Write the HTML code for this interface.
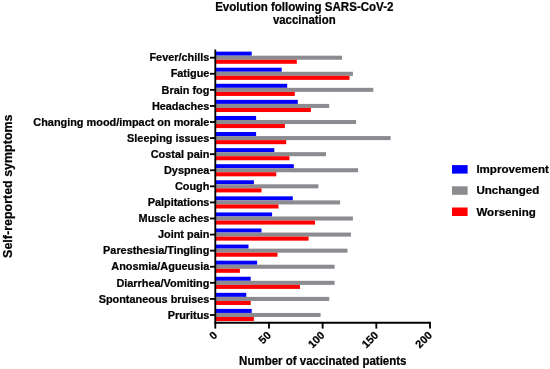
<!DOCTYPE html>
<html lang="en">
<head>
<meta charset="utf-8">
<title>Evolution following SARS-CoV-2 vaccination</title>
<style>
html,body{margin:0;padding:0;background:#fff;}
body{width:550px;height:369px;overflow:hidden;}
svg{display:block;}
text{font-family:"Liberation Sans",Arial,Helvetica,sans-serif;font-weight:bold;fill:#000;stroke:#000;stroke-width:0.22px;}
</style>
</head>
<body>
<svg width="550" height="369" viewBox="0 0 550 369">
<rect x="0" y="0" width="550" height="369" fill="#ffffff"/>
<text x="304.3" y="11" font-size="11.9" text-anchor="middle" textLength="178.3" lengthAdjust="spacingAndGlyphs">Evolution following SARS-CoV-2</text>
<text x="304.3" y="24" font-size="11.9" text-anchor="middle" textLength="62.7" lengthAdjust="spacingAndGlyphs">vaccination</text>
<g shape-rendering="auto">
<rect x="215.3" y="51.62" width="36.4" height="4.05" fill="#0000ff"/><rect x="215.3" y="55.68" width="126.8" height="4.05" fill="#8b8b90"/><rect x="215.3" y="59.73" width="81.5" height="4.05" fill="#ff0000"/>
<rect x="215.3" y="67.70" width="66.4" height="4.05" fill="#0000ff"/><rect x="215.3" y="71.75" width="137.6" height="4.05" fill="#8b8b90"/><rect x="215.3" y="75.81" width="134.2" height="4.05" fill="#ff0000"/>
<rect x="215.3" y="83.78" width="71.9" height="4.05" fill="#0000ff"/><rect x="215.3" y="87.83" width="158.0" height="4.05" fill="#8b8b90"/><rect x="215.3" y="91.89" width="79.5" height="4.05" fill="#ff0000"/>
<rect x="215.3" y="99.86" width="82.5" height="4.05" fill="#0000ff"/><rect x="215.3" y="103.91" width="113.9" height="4.05" fill="#8b8b90"/><rect x="215.3" y="107.97" width="95.6" height="4.05" fill="#ff0000"/>
<rect x="215.3" y="115.94" width="40.8" height="4.05" fill="#0000ff"/><rect x="215.3" y="119.99" width="140.8" height="4.05" fill="#8b8b90"/><rect x="215.3" y="124.05" width="69.6" height="4.05" fill="#ff0000"/>
<rect x="215.3" y="132.03" width="40.8" height="4.05" fill="#0000ff"/><rect x="215.3" y="136.07" width="175.3" height="4.05" fill="#8b8b90"/><rect x="215.3" y="140.12" width="70.9" height="4.05" fill="#ff0000"/>
<rect x="215.3" y="148.11" width="59.0" height="4.05" fill="#0000ff"/><rect x="215.3" y="152.16" width="110.7" height="4.05" fill="#8b8b90"/><rect x="215.3" y="156.21" width="74.1" height="4.05" fill="#ff0000"/>
<rect x="215.3" y="164.19" width="78.5" height="4.05" fill="#0000ff"/><rect x="215.3" y="168.23" width="142.8" height="4.05" fill="#8b8b90"/><rect x="215.3" y="172.28" width="61.0" height="4.05" fill="#ff0000"/>
<rect x="215.3" y="180.26" width="38.6" height="4.05" fill="#0000ff"/><rect x="215.3" y="184.31" width="103.1" height="4.05" fill="#8b8b90"/><rect x="215.3" y="188.36" width="46.2" height="4.05" fill="#ff0000"/>
<rect x="215.3" y="196.34" width="77.5" height="4.05" fill="#0000ff"/><rect x="215.3" y="200.39" width="124.8" height="4.05" fill="#8b8b90"/><rect x="215.3" y="204.44" width="63.2" height="4.05" fill="#ff0000"/>
<rect x="215.3" y="212.43" width="56.8" height="4.05" fill="#0000ff"/><rect x="215.3" y="216.47" width="137.6" height="4.05" fill="#8b8b90"/><rect x="215.3" y="220.53" width="99.7" height="4.05" fill="#ff0000"/>
<rect x="215.3" y="228.50" width="46.2" height="4.05" fill="#0000ff"/><rect x="215.3" y="232.55" width="135.6" height="4.05" fill="#8b8b90"/><rect x="215.3" y="236.60" width="93.3" height="4.05" fill="#ff0000"/>
<rect x="215.3" y="244.58" width="33.2" height="4.05" fill="#0000ff"/><rect x="215.3" y="248.63" width="132.2" height="4.05" fill="#8b8b90"/><rect x="215.3" y="252.68" width="62.2" height="4.05" fill="#ff0000"/>
<rect x="215.3" y="260.66" width="41.8" height="4.05" fill="#0000ff"/><rect x="215.3" y="264.71" width="119.3" height="4.05" fill="#8b8b90"/><rect x="215.3" y="268.76" width="24.6" height="4.05" fill="#ff0000"/>
<rect x="215.3" y="276.75" width="35.4" height="4.05" fill="#0000ff"/><rect x="215.3" y="280.80" width="119.3" height="4.05" fill="#8b8b90"/><rect x="215.3" y="284.84" width="84.7" height="4.05" fill="#ff0000"/>
<rect x="215.3" y="292.82" width="31.0" height="4.05" fill="#0000ff"/><rect x="215.3" y="296.88" width="113.9" height="4.05" fill="#8b8b90"/><rect x="215.3" y="300.92" width="35.4" height="4.05" fill="#ff0000"/>
<rect x="215.3" y="308.90" width="36.4" height="4.05" fill="#0000ff"/><rect x="215.3" y="312.95" width="105.3" height="4.05" fill="#8b8b90"/><rect x="215.3" y="317.00" width="38.6" height="4.05" fill="#ff0000"/>
</g>
<g stroke="#000" stroke-width="1.85" fill="none">
<path d="M215.3 49.6V323.6"/>
<path d="M214.38000000000002 322.75H430.92"/>
<path d="M210.0 57.70H215.3"/><path d="M210.0 73.78H215.3"/><path d="M210.0 89.86H215.3"/><path d="M210.0 105.94H215.3"/><path d="M210.0 122.02H215.3"/><path d="M210.0 138.10H215.3"/><path d="M210.0 154.18H215.3"/><path d="M210.0 170.26H215.3"/><path d="M210.0 186.34H215.3"/><path d="M210.0 202.42H215.3"/><path d="M210.0 218.50H215.3"/><path d="M210.0 234.58H215.3"/><path d="M210.0 250.66H215.3"/><path d="M210.0 266.74H215.3"/><path d="M210.0 282.82H215.3"/><path d="M210.0 298.90H215.3"/><path d="M210.0 314.98H215.3"/>
<path d="M215.30 322.75V328.6"/><path d="M268.98 322.75V328.6"/><path d="M322.65 322.75V328.6"/><path d="M376.32 322.75V328.6"/><path d="M430.00 322.75V328.6"/>
</g>
<g font-size="10.9" text-anchor="end">
<text x="209.4" y="61.40">Fever/chills</text>
<text x="209.4" y="77.48">Fatigue</text>
<text x="209.4" y="93.56">Brain fog</text>
<text x="209.4" y="109.64">Headaches</text>
<text x="209.4" y="125.72">Changing mood/impact on morale</text>
<text x="209.4" y="141.80">Sleeping issues</text>
<text x="209.4" y="157.88">Costal pain</text>
<text x="209.4" y="173.96">Dyspnea</text>
<text x="209.4" y="190.04">Cough</text>
<text x="209.4" y="206.12">Palpitations</text>
<text x="209.4" y="222.20">Muscle aches</text>
<text x="209.4" y="238.28">Joint pain</text>
<text x="209.4" y="254.36">Paresthesia/Tingling</text>
<text x="209.4" y="270.44">Anosmia/Agueusia</text>
<text x="209.4" y="286.52">Diarrhea/Vomiting</text>
<text x="209.4" y="302.60">Spontaneous bruises</text>
<text x="209.4" y="318.68">Pruritus</text>
</g>
<g font-size="10.9" text-anchor="end">
<text transform="translate(218.00 336.0) rotate(-45)">0</text>
<text transform="translate(271.68 336.0) rotate(-45)">50</text>
<text transform="translate(325.35 336.0) rotate(-45)">100</text>
<text transform="translate(379.02 336.0) rotate(-45)">150</text>
<text transform="translate(432.70 336.0) rotate(-45)">200</text>
</g>
<text x="322.8" y="365.0" font-size="11.9" text-anchor="middle" textLength="167.4" lengthAdjust="spacingAndGlyphs">Number of vaccinated patients</text>
<text transform="translate(11.7 186.2) rotate(-90)" font-size="12.7" textLength="143.4" lengthAdjust="spacingAndGlyphs" text-anchor="middle">Self-reported symptoms</text>
<rect x="452" y="165.10" width="15.6" height="8.5" fill="#0000ff"/><text x="476.4" y="173" font-size="11.55">Improvement</text>
<rect x="452" y="186.30" width="15.6" height="8.5" fill="#8b8b90"/><text x="476.4" y="194" font-size="11.55">Unchanged</text>
<rect x="452" y="207.50" width="15.6" height="8.5" fill="#ff0000"/><text x="476.4" y="216" font-size="11.55">Worsening</text>
</svg>
</body>
</html>
